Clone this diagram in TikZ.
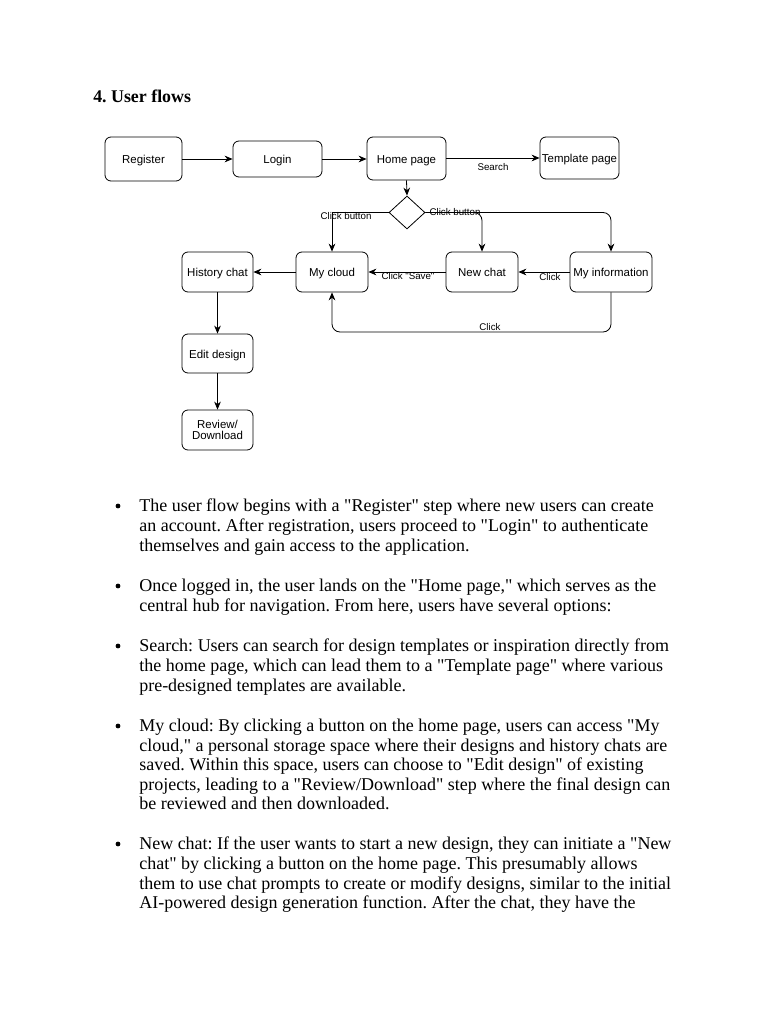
\documentclass[tikz,border=0pt]{standalone}
\usepackage{fontspec}
\setmainfont{Liberation Serif}[Ligatures=TeXOff]
\setsansfont{Liberation Sans}[Ligatures=TeXOff]
\usetikzlibrary{arrows.meta,shapes.geometric}
\frenchspacing
\begin{document}
\begin{tikzpicture}[x=0.75pt,y=-0.75pt,
  box/.style={draw,rounded corners=4.5pt,line width=0.6pt,inner sep=0pt,font=\sffamily\fontsize{8.6pt}{10pt}\selectfont,align=center,text height=7.6pt,text depth=0.6pt},
  arr/.style={-{Stealth[length=6pt,width=5pt]},line width=0.6pt},
  lbl/.style={font=\sffamily\fontsize{7.3pt}{8pt}\selectfont,inner sep=0pt},
  body/.style={anchor=base west,inner sep=0pt,font=\fontsize{13.5pt}{16pt}\selectfont},
  bul/.style={circle,fill=black,inner sep=0pt,minimum size=3.6pt}]
\useasboundingbox (0,0) rectangle (768,1024);
\fill[white] (0,0) rectangle (768,1024);

\node[anchor=base west,inner sep=0pt,font=\bfseries\fontsize{13.4pt}{16pt}\selectfont] (title) at (93,103) {4. User flows};

% boxes
\node[box,minimum width=77*0.75pt,minimum height=44*0.75pt] (reg) at (143.5,159) {Register};
\node[box,minimum width=89*0.75pt,minimum height=36*0.75pt] (login) at (277.5,159) {Login};
\node[box,minimum width=79*0.75pt,minimum height=43*0.75pt] (home) at (406.5,158.5) {Home page};
\node[box,minimum width=79*0.75pt,minimum height=42*0.75pt] (tmpl) at (579.5,158) {Template page};
\node[draw,diamond,line width=0.6pt,inner sep=0pt,minimum width=36*0.75pt,minimum height=33*0.75pt] (dia) at (407,212.5) {};
\node[box,minimum width=71*0.75pt,minimum height=40*0.75pt] (hist) at (217.5,272) {History chat};
\node[box,minimum width=72*0.75pt,minimum height=40*0.75pt] (cloud) at (332,272) {My cloud};
\node[box,minimum width=72*0.75pt,minimum height=40*0.75pt] (newc) at (482,272) {New chat};
\node[box,minimum width=82*0.75pt,minimum height=40*0.75pt] (info) at (611,272) {My information};
\node[box,minimum width=71*0.75pt,minimum height=39*0.75pt] (edit) at (217.5,353.5) {Edit design};
\node[box,text height=,text depth=,minimum width=71*0.75pt,minimum height=40*0.75pt] (rev) at (217.5,430) {Review/\\[-1.5pt]Download};

% connectors
\draw[arr] (reg) -- (login);
\draw[arr] (login.east) -- (login.east -| home.west);
\draw[arr] (home.east |- tmpl.west) -- node[lbl,below=4pt] (lsearch) {Search} (tmpl.west);
\draw[arr] (home.south) -- (dia.north);
\draw[arr] (dia.west) -| (cloud.north);
\node[lbl] (lcb1) at (346,216) {Click button};
\draw[arr,rounded corners=6pt] (dia.east) -| (newc.north);
\draw[arr,rounded corners=6pt] (dia.east) -| (info.north);
\node[lbl] (lcb2) at (455,212) {Click button};
\draw[arr] (newc.west) -- (cloud.east);
\node[lbl] (lsave) at (408,276.5) {Click "Save"};
\draw[arr] (info.west) -- (newc.east);
\node[lbl] (lclick1) at (550,277) {Click};
\coordinate (c1) at (611,332);
\coordinate (c2) at (332,332);
\draw[arr,rounded corners=6pt] (info.south) -- (c1) -- (c2) -- (cloud.south);
\node[lbl] (lclick2) at (490,327.5) {Click};
\draw[arr] (cloud.west) -- (hist.east);
\draw[arr] (hist.south) -- (edit.north);
\draw[arr] (edit.south) -- (rev.north);

% body text
\foreach \y in {506,586,646,726,844} { \node[bul] at (118,\y) {}; }
\node[body] (t1a) at (139,511) {The user flow begins with a "Register" step where new users can create};
\node[body] (t1b) at (139,531) {an account. After registration, users proceed to "Login" to authenticate};
\node[body] (t1c) at (139,551) {themselves and gain access to the application.};
\node[body] (t2a) at (139,591) {Once logged in, the user lands on the "Home page," which serves as the};
\node[body] (t2b) at (139,611) {central hub for navigation. From here, users have several options:};
\node[body] (t3a) at (139,651) {Search: Users can search for design templates or inspiration directly from};
\node[body] (t3b) at (139,671) {the home page, which can lead them to a "Template page" where various};
\node[body] (t3c) at (139,691) {pre-designed templates are available.};
\node[body] (t4a) at (139,731) {My cloud: By clicking a button on the home page, users can access "My};
\node[body] (t4b) at (139,751) {cloud," a personal storage space where their designs and history chats are};
\node[body] (t4c) at (139,770) {saved. Within this space, users can choose to "Edit design" of existing};
\node[body] (t4d) at (139,790) {projects, leading to a "Review/Download" step where the final design can};
\node[body] (t4e) at (139,809) {be reviewed and then downloaded.};
\node[body] (t5a) at (139,849) {New chat: If the user wants to start a new design, they can initiate a "New};
\node[body] (t5b) at (139,869) {chat" by clicking a button on the home page. This presumably allows};
\node[body] (t5c) at (139,889) {them to use chat prompts to create or modify designs, similar to the initial};
\node[body] (t5d) at (139,908) {AI-powered design generation function. After the chat, they have the};
\end{tikzpicture}
\end{document}
